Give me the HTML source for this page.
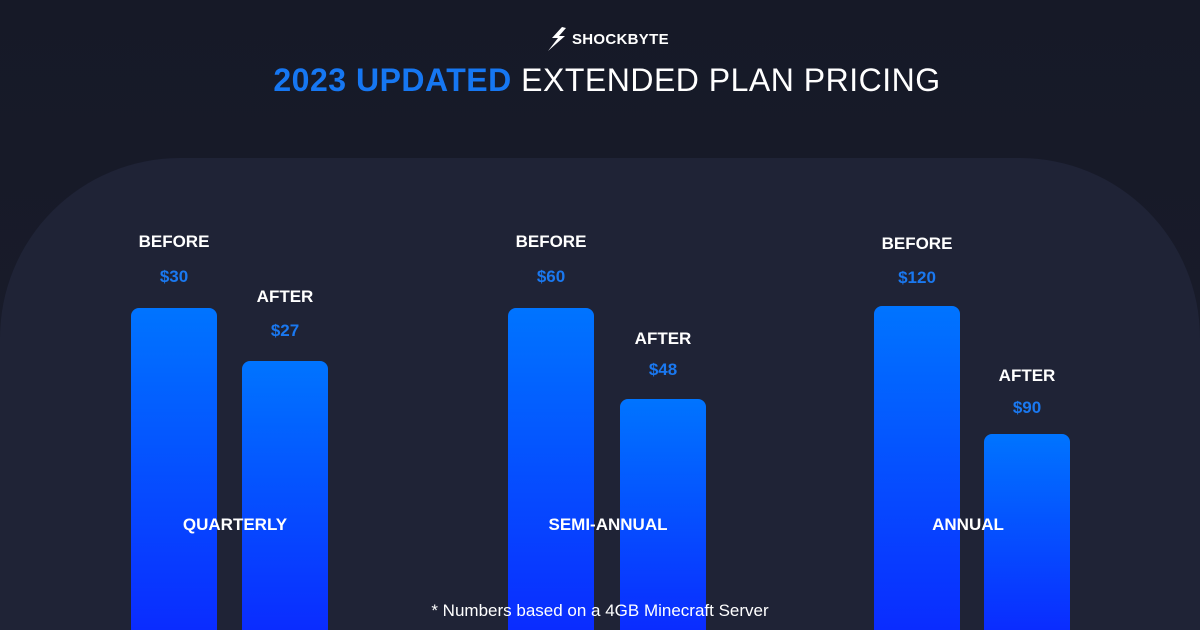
<!DOCTYPE html>
<html><head><style>
html,body{margin:0;width:1200px;height:630px;overflow:hidden}
body{background:linear-gradient(#161927,#1a1d2c);font-family:"Liberation Sans",sans-serif;position:relative}
.panel{position:absolute;left:0;top:158px;width:1200px;height:472px;background:#1f2336;border-radius:180px 180px 0 0}
.t{position:absolute;font-weight:bold;text-align:center;transform:translateX(-50%);white-space:nowrap}
.w{color:#fff;font-size:17px}
.b{color:#1a78f0;font-size:17px}
.bar{position:absolute;width:86px;bottom:0;border-radius:8px 8px 0 0;background:linear-gradient(#0074ff,#0a2cff)}
.cat{color:#fff;font-size:17px;z-index:2}
</style></head><body>
<div class="panel"></div>
<svg style="position:absolute;left:548px;top:27px" width="20" height="24" viewBox="0 0 20 24"><path d="M14 0 L4 11 L10 11 L0 24 L17 9 L11 9 L18 1 Z" fill="#fff"/></svg>
<div style="position:absolute;left:572px;top:31px;color:#fff;font-size:15px;font-weight:bold;letter-spacing:0.3px">SHOCKBYTE</div>
<div class="t" style="left:607px;top:62px;color:#fff;font-size:32px;font-weight:normal;letter-spacing:0.5px"><b style="color:#1677f2">2023 UPDATED</b> EXTENDED PLAN PRICING</div>

<div class="bar" style="left:131px;top:308px"></div>
<div class="bar" style="left:242px;top:361px"></div>
<div class="bar" style="left:508px;top:308px"></div>
<div class="bar" style="left:620px;top:399px"></div>
<div class="bar" style="left:874px;top:306px"></div>
<div class="bar" style="left:984px;top:434px"></div>

<div class="t w" style="left:174px;top:232px">BEFORE</div>
<div class="t b" style="left:174px;top:267px">$30</div>
<div class="t w" style="left:285px;top:287px">AFTER</div>
<div class="t b" style="left:285px;top:321px">$27</div>
<div class="t w" style="left:551px;top:232px">BEFORE</div>
<div class="t b" style="left:551px;top:267px">$60</div>
<div class="t w" style="left:663px;top:329px">AFTER</div>
<div class="t b" style="left:663px;top:360px">$48</div>
<div class="t w" style="left:917px;top:234px">BEFORE</div>
<div class="t b" style="left:917px;top:268px">$120</div>
<div class="t w" style="left:1027px;top:366px">AFTER</div>
<div class="t b" style="left:1027px;top:398px">$90</div>

<div class="t cat" style="left:235px;top:515px">QUARTERLY</div>
<div class="t cat" style="left:608px;top:515px">SEMI-ANNUAL</div>
<div class="t cat" style="left:968px;top:515px">ANNUAL</div>

<div class="t" style="left:600px;top:601px;color:#fff;font-size:17px;font-weight:normal;z-index:2">* Numbers based on a 4GB Minecraft Server</div>
</body></html>
